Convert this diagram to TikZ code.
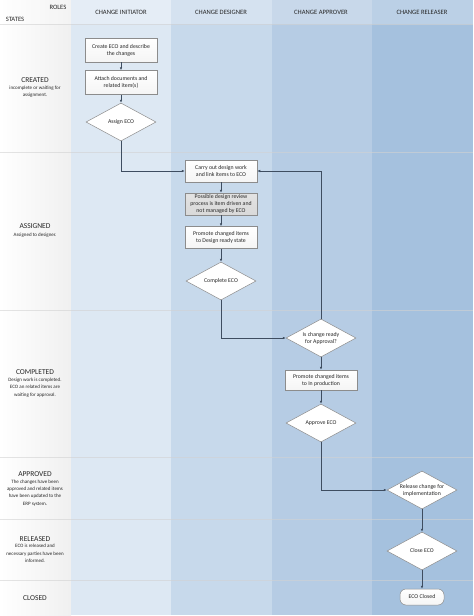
\documentclass[tikz,border=0pt]{standalone}
\usepackage{fontspec}
\setmainfont{Carlito}
\usetikzlibrary{shapes.geometric,arrows.meta}

\definecolor{laneA}{HTML}{DDE8F3}
\definecolor{laneB}{HTML}{C7D9EB}
\definecolor{laneC}{HTML}{B6CCE4}
\definecolor{laneD}{HTML}{A5C1DE}
\definecolor{boxline}{HTML}{8C8C8C}
\definecolor{flowline}{HTML}{3E4D60}
\definecolor{textcol}{HTML}{262626}

\begin{document}
\begin{tikzpicture}[x=1pt, y=-1pt, every node/.style={text=textcol, align=center, font=\fontsize{5.8}{7}\selectfont},
  stepbox/.style={draw=boxline, rectangle, line width=0.5pt, top color=white, bottom color=gray!8, minimum width=72pt, minimum height=22pt, inner sep=1pt},
  decision/.style={draw=boxline, diamond, line width=0.5pt, fill=white, minimum width=70pt, minimum height=38pt, inner sep=0pt, aspect=1.8},
  flow/.style={draw=flowline, line width=0.6pt, -{Latex[length=3pt,width=2.6pt]}},
  state/.style={font=\fontsize{7.5}{9}\selectfont},
  statetext/.style={font=\fontsize{5}{7.3}\selectfont},
  role/.style={font=\fontsize{6.6}{8}\selectfont}]

\useasboundingbox (0,0) rectangle (474,616);

% swimlanes
\fill[left color=white, right color=gray!12] (0,0) rectangle (71,615);
\fill[laneA] (71,0) rectangle (171,615);
\fill[laneB] (171,0) rectangle (272,615);
\fill[laneC] (272,0) rectangle (372,615);
\fill[laneD] (372,0) rectangle (473,615);
\fill[white, opacity=0.25] (0,0) rectangle (473,24);
\foreach \y in {24,152,310,457,519,580}
  \draw[gray!35, opacity=0.6, line width=0.8pt] (0,\y) -- (473,\y);

% header
\node[role] (roles) at (58,7) {ROLES};
\node[role] (states) at (15,19) {STATES};
\node[role] (r1) at (121,12) {CHANGE INITIATOR};
\node[role] (r2) at (221,12) {CHANGE DESIGNER};
\node[role] (r3) at (321,12) {CHANGE APPROVER};
\node[role] (r4) at (422,12) {CHANGE RELEASER};

% states
\node[state] (s1) at (35,80) {CREATED};
\node[statetext] (t1) at (35,92) {incomplete or waiting for\\assignment.};
\node[state] (s2) at (35,226) {ASSIGNED};
\node[statetext] (t2) at (35,235) {Assigned to designer.};
\node[state] (s3) at (35,372) {COMPLETED};
\node[statetext] (t3) at (35,387.5) {Design work is completed.\\ECO an related items are\\waiting for approval.};
\node[state] (s4) at (35,474) {APPROVED};
\node[statetext] (t4) at (35,493) {The changes have been\\approved and related items\\have been updated to the\\ERP system.};
\node[state] (s5) at (35,539) {RELEASED};
\node[statetext] (t5) at (35,553.5) {ECO is released and\\necessary parties have been\\informed.};
\node[state] (s6) at (35,598) {CLOSED};

% steps
\node[stepbox, minimum height=24pt] (b1) at (121,50) {Create ECO and describe\\the changes};
\node[stepbox, minimum height=24pt] (b2) at (121,82.5) {Attach documents and\\related item(s)};
\node[decision] (q1) at (121,122) {Assign ECO};

\node[stepbox] (b3) at (221,171) {Carry out design work\\and link items to ECO};
\node[stepbox, top color=gray!22, bottom color=gray!30] (b4) at (221,204) {Possible design review\\process is item driven and\\not managed by ECO};
\node[stepbox] (b5) at (221,237.5) {Promote changed items\\to Design ready state};
\node[decision] (q2) at (221,281) {Complete ECO};

\node[decision] (q3) at (321,338) {Is change ready\\for Approval?};
\node[stepbox, minimum height=20pt] (b6) at (321,380) {Promote changed items\\to In production};
\node[decision] (q4) at (321,423) {Approve ECO};

\node[decision] (q5) at (422,490) {Release change for\\implementation};
\node[decision] (q6) at (422,551) {Close ECO};
\node[draw=boxline, line width=0.5pt, rounded corners=6pt, top color=white, bottom color=gray!8, minimum width=44pt, minimum height=16pt, inner sep=1pt] (end) at (422,597) {ECO Closed};

\draw[flow] (b1) -- (b2);
\draw[flow] (b2) -- (q1);
\draw[flow] (q1) |- (b3);
\draw[flow] (b3) -- (b4);
\draw[flow] (b4) -- (b5);
\draw[flow] (b5) -- (q2);
\draw[flow] (q2) |- (q3);
\draw[flow] (q3) |- (b3);
\draw[flow] (q3) -- (b6);
\draw[flow] (b6) -- (q4);
\draw[flow] (q4) |- (q5);
\draw[flow] (q5) -- (q6);
\draw[flow] (q6) -- (end);

\end{tikzpicture}
\end{document}
